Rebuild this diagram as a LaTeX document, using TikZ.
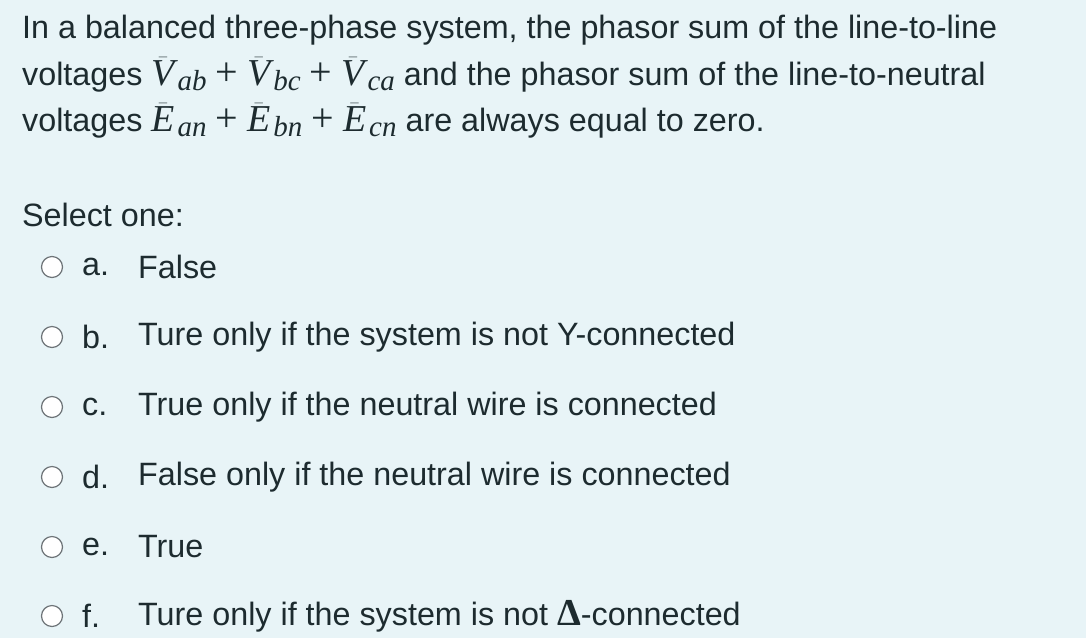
\documentclass[tikz,border=0pt]{standalone}
\usepackage{fontspec}
\setmainfont{Liberation Sans}
\newfontfamily\mserif{Liberation Serif}
\definecolor{bgc}{HTML}{E8F4F7}
\definecolor{txt}{HTML}{1D2B2F}
\definecolor{rad}{HTML}{6E7478}
\newcommand{\ph}[2]{{\mserif\itshape\fontsize{38}{38}\selectfont\ensuremath{\bar{\mbox{#1}}}\hspace{3pt}\raisebox{-0.3ex}{\fontsize{29}{29}\selectfont #2}}}
\newcommand{\pl}{\hspace{9pt}{\mserif\fontsize{40}{40}\selectfont +}\hspace{9pt}}
\begin{document}
\begin{tikzpicture}[x=1pt,y=-1pt,
  t/.style={anchor=west,inner sep=0pt,text=txt,font=\fontsize{32.3}{34}\selectfont},
  radio/.style={circle,draw=rad,line width=1.2pt,minimum size=21pt,inner sep=0pt,fill=white}]
\fill[bgc] (0,0) rectangle (1086,638);
\useasboundingbox (0,0) rectangle (1086,638);
\node[t] (l1) at (22,30) {In a balanced three-phase system, the phasor sum of the line-to-line};
\node[t] (l2) at (22,75) {voltages \ph{V}{ab}\pl\ph{V}{bc}\pl\ph{V}{ca} and the phasor sum of the line-to-neutral};
\node[t] (l3) at (22,121) {voltages \ph{E}{an}\pl\ph{E}{bn}\pl\ph{E}{cn} are always equal to zero.};
\node[t] (sel) at (22,215) {Select one:};
\foreach \y/\l/\s [count=\i] in {267/a./False,337/b./Ture only if the system is not Y-connected,407/c./True only if the neutral wire is connected,477/d./False only if the neutral wire is connected,547/e./True,616/f./{Ture only if the system is not {\mserif\bfseries\fontsize{38}{38}\selectfont\symbol{"0394}}-connected}}{
  \node[radio] (r\i) at (52,\y) {};
  \node[t] (k\i) at (82,\y) {\l};
  \node[t] (o\i) at (138,\y) {\s};
}
\end{tikzpicture}
\end{document}
